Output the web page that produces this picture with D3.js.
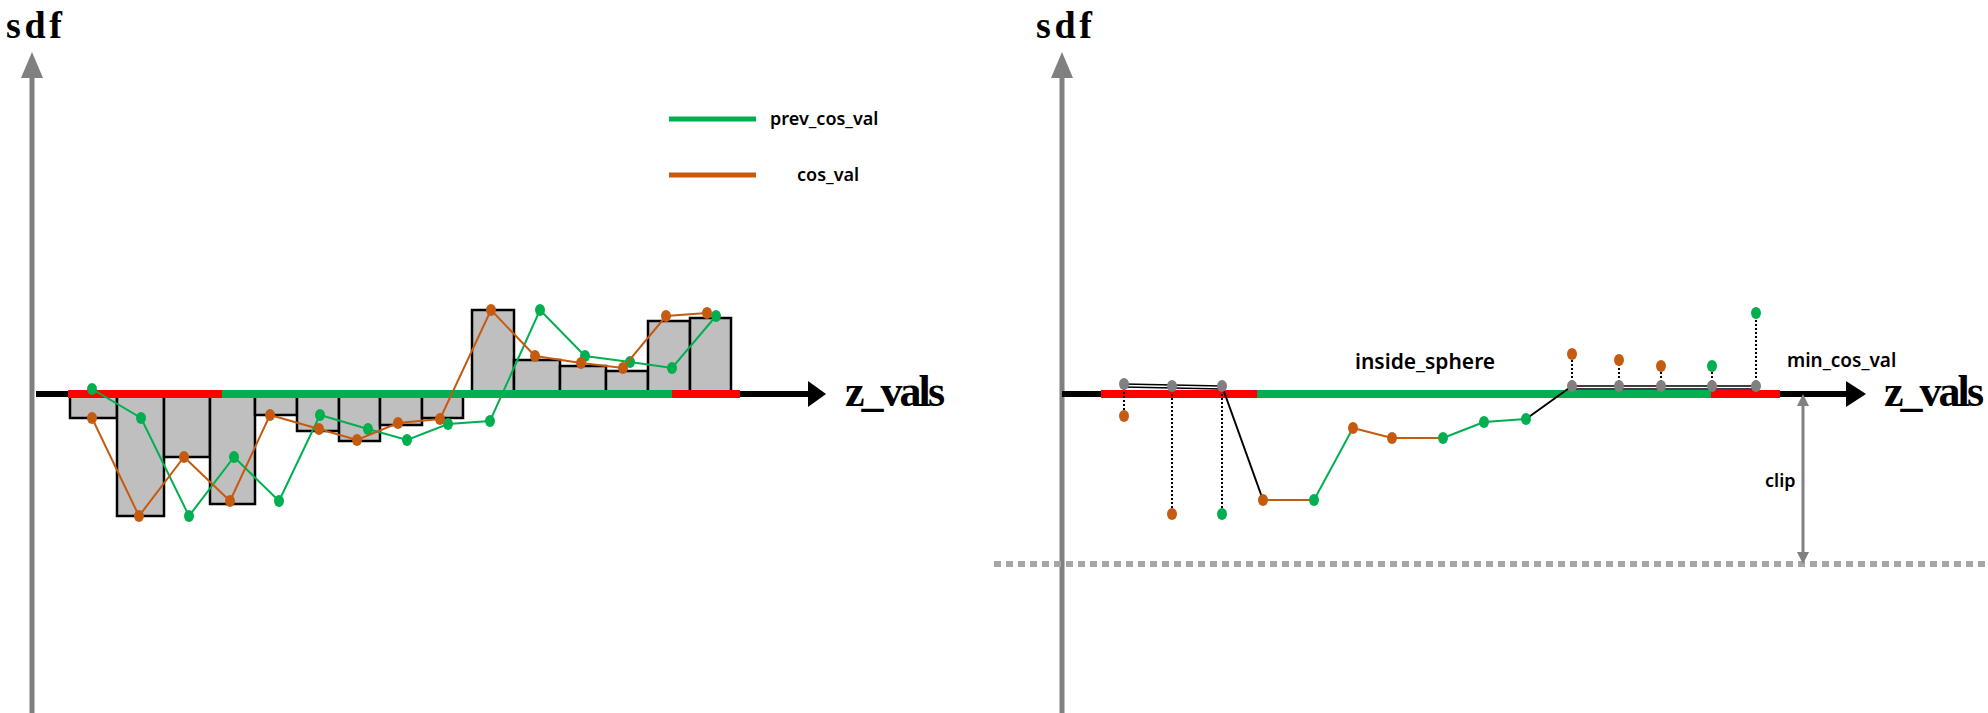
<!DOCTYPE html>
<html><head><meta charset="utf-8">
<script src="https://cdn.jsdelivr.net/npm/d3@7/dist/d3.min.js"></script>
<style>body{margin:0;background:#fff}</style></head>
<body><svg id="c" width="1988" height="713"></svg>
<script>
// left panel: bar edges (z) and bar sdf heights
const barEdges = [70,117,164,210,255,297,339,380,422,463];
const barVals = [-24,-122,-63,-110,-21,-37,-47,-31,-24];
const posEdges = [472,514,560,606,648,690,731];
const posVals = [84,34,28,23,73,76];
const cosPts = [[92,-24],[139,-122],[184,-63],[230,-107],[270,-21],[319,-35],[357,-46],[398,-29],[440,-25],[491,84],[535,38],[581,31],[623,26],[666,78],[707,81]];
const prevPts = [[92,5],[141,-24],[189,-122],[234,-63],[279,-107],[320,-21],[368,-35],[407,-46],[448,-30],[490,-27],[540,84],[585,38],[630,32],[672,26],[716,78]];
const leftBands = [[36,68,"#000"],[68,222,"#FF0000"],[222,672,"#00B050"],[672,740,"#FF0000"],[740,808,"#000"]];

// right panel
const grayPts = [[1124,10],[1172,8],[1222,8],[1572,8],[1619,8],[1661,8],[1712,8],[1756,8]];
const stems = [[1124,-22,"o"],[1172,-120,"o"],[1222,-120,"g"],[1572,40,"o"],[1619,34,"o"],[1661,28,"o"],[1712,28,"g"],[1756,81,"g"]];
const path = [[1222,8,"#000"],[1263,-106,"#C55A11"],[1314,-106,"#00B050"],[1353,-34,"#C55A11"],[1392,-44,"#C55A11"],[1443,-44,"#00B050"],[1484,-28,"#00B050"],[1526,-25,"#000"],[1572,8,null]];
const rightBands = [[1062,1101,"#000"],[1101,1257,"#FF0000"],[1257,1711,"#00B050"],[1711,1780,"#FF0000"],[1780,1846,"#000"]];
const clipLevel = -170;

const ORANGE="#C55A11", GREEN="#00B050", GRAY="#808080";
const svg = d3.select("#c");
const x = d3.scaleLinear().domain([0,1988]).range([0,1988]);
const y = d3.scaleLinear().domain([0,100]).range([394,294]);

const defs = svg.append("defs");
defs.append("marker").attr("id","ga").attr("viewBox","0 0 10 10").attr("refX",5).attr("refY",5)
  .attr("markerWidth",4).attr("markerHeight",4).attr("orient","auto-start-reverse")
  .append("path").attr("d","M0,0L10,5L0,10z").attr("fill",GRAY);

function axes(x0, bands, tip, labX){
  svg.append("line").attr("x1",x0).attr("x2",x0).attr("y1",713).attr("y2",72)
    .attr("stroke",GRAY).attr("stroke-width",5);
  svg.append("path").attr("d",`M${x0-11},78L${x0},52L${x0+11},78z`).attr("fill",GRAY);
  svg.append("text").attr("x",x0-26).attr("y",38).text("sdf").attr("textLength",56)
    .attr("font-family","Liberation Serif").attr("font-weight","bold").attr("font-size",38);
  bands.forEach(b=>svg.append("line").attr("x1",x(b[0])).attr("x2",x(b[1])).attr("y1",y(0)).attr("y2",y(0))
    .attr("stroke",b[2]).attr("stroke-width",b[2]==="#000"?6:8));
  const e = bands[bands.length-1][1];
  svg.append("path").attr("d",`M${e},${y(0)-13}L${tip},${y(0)}L${e},${y(0)+13}z`).attr("fill","#000");
  svg.append("text").attr("x",labX).attr("y",y(0)+12).text("z_vals").attr("textLength",100)
    .attr("font-family","Liberation Serif").attr("font-weight","bold").attr("font-size",44);
}
axes(32, leftBands, 826, 845);
axes(1062, rightBands, 1866, 1884);

// bars
function bars(edges, vals){
  vals.forEach((v,i)=>svg.append("rect").attr("x",x(edges[i])).attr("width",x(edges[i+1])-x(edges[i]))
    .attr("y",Math.min(y(v),y(0))).attr("height",Math.abs(y(v)-y(0)))
    .attr("fill","#BFBFBF").attr("stroke","#000").attr("stroke-width",2.5));
}
bars(barEdges, barVals); bars(posEdges, posVals);
leftBands.forEach(b=>svg.append("line").attr("x1",x(b[0])).attr("x2",x(b[1])).attr("y1",y(0)).attr("y2",y(0))
  .attr("stroke",b[2]).attr("stroke-width",b[2]==="#000"?6:8));

const line = d3.line().x(d=>x(d[0])).y(d=>y(d[1]));
function series(pts,color){
  svg.append("path").attr("d",line(pts)).attr("fill","none").attr("stroke",color).attr("stroke-width",2);
  svg.selectAll(null).data(pts).join("ellipse").attr("cx",d=>x(d[0])).attr("cy",d=>y(d[1]))
    .attr("rx",5).attr("ry",6).attr("fill",color);
}
series(prevPts, GREEN);
series(cosPts, ORANGE);

// legend
[[119,GREEN,"prev_cos_val",770],[175,ORANGE,"cos_val",797]].forEach(l=>{
  svg.append("line").attr("x1",669).attr("x2",756).attr("y1",l[0]).attr("y2",l[0]).attr("stroke",l[1]).attr("stroke-width",5);
  svg.append("text").attr("x",l[3]).attr("y",l[0]+6).text(l[2]).attr("font-family","Noto Sans")
    .attr("font-weight","600").attr("font-size",18);
});

// right panel
svg.append("line").attr("x1",994).attr("x2",1988).attr("y1",y(clipLevel)).attr("y2",y(clipLevel))
  .attr("stroke","#A6A6A6").attr("stroke-width",6).attr("stroke-dasharray","7,5");
svg.append("line").attr("x1",1803).attr("x2",1803).attr("y1",y(0)+6).attr("y2",y(clipLevel)-6)
  .attr("stroke",GRAY).attr("stroke-width",3).attr("marker-start","url(#ga)").attr("marker-end","url(#ga)");

stems.forEach(s=>{
  const g = grayPts.find(p=>p[0]===s[0]);
  svg.append("line").attr("x1",x(s[0])).attr("x2",x(s[0])).attr("y1",y(g[1])).attr("y2",y(s[1]))
    .attr("stroke","#000").attr("stroke-width",2).attr("stroke-dasharray","2,2");
});
// thin double lines joining gray points
[[0,2],[3,7]].forEach(([a,b])=>{
  [0,3].forEach(off=>svg.append("line").attr("x1",x(grayPts[a][0])).attr("x2",x(grayPts[b][0]))
    .attr("y1",y(grayPts[a][1])+off).attr("y2",y(grayPts[b][1])+off).attr("stroke","#000").attr("stroke-width",1.3));
});
for(let i=0;i<path.length-1;i++){
  svg.append("line").attr("x1",x(path[i][0])).attr("y1",y(path[i][1])).attr("x2",x(path[i+1][0])).attr("y2",y(path[i+1][1]))
    .attr("stroke",path[i][2]).attr("stroke-width",2);
}
const ptColor = i=> [1,3,4].includes(i)?ORANGE:GREEN;
path.forEach((p,i)=>{ if(i>0 && i<path.length-1) svg.append("ellipse").attr("cx",x(p[0])).attr("cy",y(p[1])).attr("rx",5).attr("ry",6).attr("fill",ptColor(i)); });
stems.forEach(s=>svg.append("ellipse").attr("cx",x(s[0])).attr("cy",y(s[1])).attr("rx",5).attr("ry",6).attr("fill",s[2]==="o"?ORANGE:GREEN));
grayPts.forEach(p=>svg.append("ellipse").attr("cx",x(p[0])).attr("cy",y(p[1])).attr("rx",5).attr("ry",6).attr("fill",GRAY));

[["inside_sphere",1355,369,21],["min_cos_val",1787,367,19],["clip",1765,487,18]].forEach(t=>{
  svg.append("text").attr("x",t[1]).attr("y",t[2]).text(t[0]).attr("font-family","Noto Sans")
    .attr("font-weight","600").attr("font-size",t[3]);
});
</script></body></html>
